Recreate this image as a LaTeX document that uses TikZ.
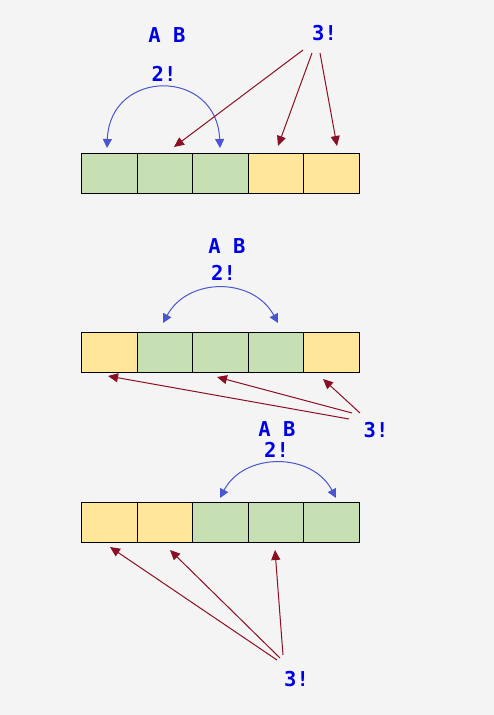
\documentclass[tikz,border=0pt]{standalone}
\usepackage{fontspec}
\newfontfamily\monof{DejaVu Sans Mono}
\usetikzlibrary{arrows.meta}
\definecolor{bg}{HTML}{F4F4F4}
\definecolor{cellgreen}{HTML}{C6E0B4}
\definecolor{cellyellow}{HTML}{FFE699}
\definecolor{arcblue}{HTML}{4A56D0}
\definecolor{txtblue}{HTML}{0000E6}
\definecolor{arrred}{HTML}{8B0F22}
\tikzset{
  cell/.style={draw=black, line width=1.1pt, minimum width=55.5pt, minimum height=40pt, inner sep=0pt, outer sep=0pt},
  gcell/.style={cell, fill=cellgreen},
  ycell/.style={cell, fill=cellyellow},
  lbl/.style={text=txtblue, font=\monof\fontsize{20.5}{24}\selectfont, anchor=base, inner sep=0pt},
  swaparc/.style={draw=arcblue, line width=1pt, {Triangle[length=9pt,width=9pt]}-{Triangle[length=9pt,width=9pt]}},
  pick/.style={draw=arrred, line width=1pt, -{Triangle[length=10pt,width=9pt]}}
}
\begin{document}
\begin{tikzpicture}[x=1pt,y=-1pt]
\fill[bg] (0,0) rectangle (494,715);
\useasboundingbox (0,0) rectangle (494,715);
% row 1
\node[gcell] (r1c1) at (109.3,173.3) {};
\node[gcell] (r1c2) at (164.8,173.3) {};
\node[gcell] (r1c3) at (220.3,173.3) {};
\node[ycell] (r1c4) at (275.8,173.3) {};
\node[ycell] (r1c5) at (331.3,173.3) {};
\node[lbl] (r1ab) at (167,42) {\textbf{A B}};
\node[lbl] (r1two) at (164,81) {\textbf{2!}};
\node[lbl] (r1three) at (324.5,40) {\textbf{3!}};
% row 2
\node[ycell] (r2c1) at (109.3,352.8) {};
\node[gcell] (r2c2) at (164.8,352.8) {};
\node[gcell] (r2c3) at (220.3,352.8) {};
\node[gcell] (r2c4) at (275.8,352.8) {};
\node[ycell] (r2c5) at (331.3,352.8) {};
\node[lbl] (r2ab) at (227,253) {\textbf{A B}};
\node[lbl] (r2two) at (223.5,280) {\textbf{2!}};
\node[lbl] (r2three) at (376,437) {\textbf{3!}};
% row 3
\node[ycell] (r3c1) at (109.3,522.3) {};
\node[ycell] (r3c2) at (164.8,522.3) {};
\node[gcell] (r3c3) at (220.3,522.3) {};
\node[gcell] (r3c4) at (275.8,522.3) {};
\node[gcell] (r3c5) at (331.3,522.3) {};
\node[lbl] (r3ab) at (277,436) {\textbf{A B}};
\node[lbl] (r3two) at (276.5,457) {\textbf{2!}};
\node[lbl] (r3three) at (296.5,686) {\textbf{3!}};
% connector end points
\coordinate (r1a1) at (107,148);
\coordinate (r1a2) at (220,148);
\coordinate (r1s1) at (303,50);
\coordinate (r1s2) at (312,53);
\coordinate (r1s3) at (320,53);
\coordinate (r1t1) at (174,147);
\coordinate (r1t2) at (278,146);
\coordinate (r1t3) at (337,146);
\coordinate (r2a1) at (163,323);
\coordinate (r2a2) at (278,323);
\coordinate (r2s1) at (349,419);
\coordinate (r2s2) at (352,413);
\coordinate (r2s3) at (360,413);
\coordinate (r2t1) at (108,376);
\coordinate (r2t2) at (217,377);
\coordinate (r2t3) at (323,379);
\coordinate (r3a1) at (220,498);
\coordinate (r3a2) at (336,498);
\coordinate (r3s1) at (277,660);
\coordinate (r3s2) at (280,658);
\coordinate (r3s3) at (283,655);
\coordinate (r3t1) at (110,547);
\coordinate (r3t2) at (170,550);
\coordinate (r3t3) at (275,550);
% arcs
\draw[swaparc] (r1a1) .. controls (110,68) and (217,68) .. (r1a2);
\draw[swaparc] (r2a1) .. controls (188,277) and (253,277) .. (r2a2);
\draw[swaparc] (r3a1) .. controls (244,452) and (312,452) .. (r3a2);
% red arrows
\draw[pick] (r1s1) -- (r1t1);
\draw[pick] (r1s2) -- (r1t2);
\draw[pick] (r1s3) -- (r1t3);
\draw[pick] (r2s1) -- (r2t1);
\draw[pick] (r2s2) -- (r2t2);
\draw[pick] (r2s3) -- (r2t3);
\draw[pick] (r3s1) -- (r3t1);
\draw[pick] (r3s2) -- (r3t2);
\draw[pick] (r3s3) -- (r3t3);
\end{tikzpicture}
\end{document}
